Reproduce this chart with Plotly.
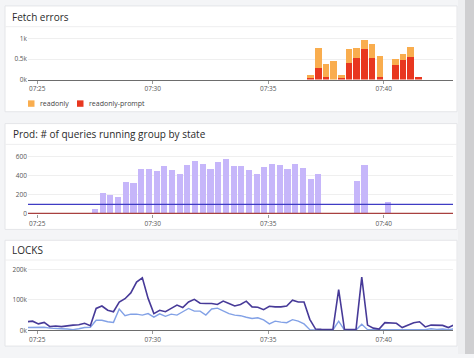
import plotly.graph_objects as go
import pandas as pd

W, H = 474, 358
DAY = "2024-01-01 "

# ---------------- Panel 1: Fetch errors (20 s buckets) ----------------
fetch_times = ["07:36:50", "07:37:10", "07:37:30", "07:37:50", "07:38:10",
               "07:38:30", "07:38:50", "07:39:10", "07:39:30", "07:39:50",
               "07:40:10", "07:40:30", "07:40:50", "07:41:10", "07:41:30"]
readonly_prompt = [50, 290, 56, 0, 50, 411, 532, 734, 516, 56, 0, 363, 484, 548, 65]
readonly = [70, 484, 331, 444, 70, 339, 250, 242, 355, 524, 0, 145, 129, 258, 0]

# ---------------- Panel 2: queries running by state ----------------
query_times = ["07:27:30", "07:27:50", "07:28:10", "07:28:30", "07:28:50",
               "07:29:10", "07:29:30", "07:29:50", "07:30:10", "07:30:30",
               "07:30:50", "07:31:10", "07:31:30", "07:31:50", "07:32:10",
               "07:32:30", "07:32:50", "07:33:10", "07:33:30", "07:33:50",
               "07:34:10", "07:34:30", "07:34:50", "07:35:10", "07:35:30",
               "07:35:50", "07:36:10", "07:36:30", "07:36:50", "07:37:10",
               "07:38:50", "07:39:10", "07:40:10"]
query_counts = [55, 214, 200, 172, 331, 324, 472, 466, 448, 500,
                459, 414, 510, 555, 524, 472, 545, 572, 500, 500,
                455, 417, 486, 517, 507, 472, 524, 479, 366, 417,
                341, 507, 128]
state_line_times = ["07:24:00", "07:44:00"]
state_blue = [100, 100]
state_red = [2, 2]

# ---------------- Panel 3: LOCKS (15 s samples) ----------------
locks_start = "07:24:33"
locks_total = [28, 30, 21, 26, 12, 14, 12, 15, 17, 18,
               23, 15, 72, 80, 66, 61, 93, 104, 123, 159,
               173, 105, 55, 66, 61, 72, 83, 75, 93, 102,
               89, 88, 88, 85, 96, 88, 80, 85, 96, 77,
               76, 68, 79, 77, 77, 80, 99, 93, 93, 36,
               4, 3, 2, 2, 134, 3, 2, 2, 175, 17,
               7, 4, 25, 23, 23, 9, 17, 25, 28, 11,
               17, 17, 16, 9, 18]
locks_other = [9, 9, 10, 10, 7, 7, 5, 4, 2, 5,
               9, 10, 33, 33, 28, 26, 70, 48, 53, 53,
               50, 55, 43, 54, 46, 53, 50, 61, 72, 63,
               63, 50, 70, 73, 64, 55, 50, 48, 43, 39,
               41, 34, 21, 30, 27, 25, 35, 30, 21, 2,
               1, 1, 1, 1, 30, 1, 1, 1, 20, 2,
               2, 2, 2, 2, 2, 2, 3, 2, 4, 2,
               5, 3, 4, 2, 5]

# ---------------- styling ----------------
FONT = "Open Sans"
C_ORANGE = "#f9ad4e"
C_RED = "#e8371f"
C_LAV = "#c6b6fa"
C_BLUE = "#3f3cc4"
C_DRED = "#a8403f"
C_DARK = "#473a98"
C_LIGHT = "#82a1e6"


def t(s):
    return pd.Timestamp(DAY + s)


def px_x(p):
    return p / W


def px_y(p):
    return 1 - p / H


lock_times = pd.date_range(t(locks_start), periods=len(locks_total), freq="15s")

fig = go.Figure()

fig.add_trace(go.Bar(x=[t(s) for s in fetch_times], y=readonly_prompt,
                     marker=dict(color=C_RED, line_width=0), width=17000,
                     name="readonly-prompt", xaxis="x", yaxis="y", showlegend=False))
fig.add_trace(go.Bar(x=[t(s) for s in fetch_times], y=readonly,
                     marker=dict(color=C_ORANGE, line_width=0), width=17000,
                     name="readonly", xaxis="x", yaxis="y", showlegend=False))

fig.add_trace(go.Bar(x=[t(s) for s in query_times], y=query_counts,
                     marker=dict(color=C_LAV, line_width=0), width=15800,
                     xaxis="x2", yaxis="y2", showlegend=False))
fig.add_trace(go.Scatter(x=[t(s) for s in state_line_times], y=state_blue, mode="lines",
                         line=dict(color=C_BLUE, width=1.3), xaxis="x2", yaxis="y2",
                         showlegend=False))
fig.add_trace(go.Scatter(x=[t(s) for s in state_line_times], y=state_red, mode="lines",
                         line=dict(color=C_DRED, width=1.7), xaxis="x2", yaxis="y2",
                         showlegend=False))

fig.add_trace(go.Scatter(x=lock_times, y=[v * 1000 for v in locks_other], mode="lines",
                         line=dict(color=C_LIGHT, width=1.4), xaxis="x3", yaxis="y3",
                         showlegend=False))
fig.add_trace(go.Scatter(x=lock_times, y=[v * 1000 for v in locks_total], mode="lines",
                         line=dict(color=C_DARK, width=1.6), xaxis="x3", yaxis="y3",
                         showlegend=False))

x_range = [t("07:24:36"), t("07:43:00")]
x_dom = [px_x(28), px_x(453)]


def xaxis(anchor, showline=True):
    return dict(domain=x_dom, anchor=anchor, type="date", range=x_range,
                tickformat="%H:%M", dtick=300000, tick0=t("07:25:00"),
                showgrid=False, zeroline=False, showline=showline,
                linecolor="#6d6d6d", linewidth=1, layer="below traces",
                ticks="outside", ticklen=3, tickcolor="#9a9a9a", tickwidth=1,
                tickfont=dict(family=FONT, size=6.5, color="#555"))


def yaxis(anchor, dom, rng, vals, texts):
    return dict(domain=dom, anchor=anchor, range=rng, tickvals=vals, ticktext=texts,
                showgrid=True, gridcolor="#efefef", gridwidth=1, zeroline=False,
                showline=False, ticks="",
                tickfont=dict(family=FONT, size=6.5, color="#555"))


# panels (page background boxes)
shapes = []
panels = [(5, 457, 6, 113, 27), (5, 457, 125, 232, 146), (5, 457, 243, 350, 263)]
for x0, x1, y0, y1, ysep in panels:
    shapes.append(dict(type="rect", xref="paper", yref="paper", layer="below",
                       x0=px_x(x0), x1=px_x(x1), y0=px_y(y1), y1=px_y(y0),
                       fillcolor="white", line=dict(color="#e4e5e8", width=1)))
    shapes.append(dict(type="line", xref="paper", yref="paper", layer="below",
                       x0=px_x(x0), x1=px_x(x1), y0=px_y(ysep), y1=px_y(ysep),
                       line=dict(color="#eeeeef", width=1)))
# right scrollbar strip
shapes.append(dict(type="rect", xref="paper", yref="paper", layer="below",
                   x0=px_x(458), x1=px_x(465), y0=0, y1=1,
                   fillcolor="#eeeff1", line_width=0))
shapes.append(dict(type="rect", xref="paper", yref="paper", layer="below",
                   x0=px_x(465), x1=1, y0=0, y1=1,
                   fillcolor="#cfcfd1", line_width=0))
# legend squares
legend_items = [("readonly", C_ORANGE, 28), ("readonly-prompt", C_RED, 77)]
for _, col, lx in legend_items:
    shapes.append(dict(type="rect", xref="paper", yref="paper",
                       x0=px_x(lx), x1=px_x(lx + 6.5), y0=px_y(108), y1=px_y(101.5),
                       fillcolor=col, line_width=0))

annotations = []
titles = [("Fetch errors", 9.5, 17), ("Prod: # of queries running group by state", 11, 136),
          ("LOCKS", 9.5, 253)]
for txt, ax, ay in titles:
    annotations.append(dict(text=txt, xref="paper", yref="paper", x=px_x(ax), y=px_y(ay),
                            xanchor="left", yanchor="middle", showarrow=False,
                            font=dict(family=FONT, size=10, color="#2a2a2a")))
for name, _, lx in legend_items:
    annotations.append(dict(text=name, xref="paper", yref="paper", x=px_x(lx + 10),
                            y=px_y(104.8), xanchor="left", yanchor="middle",
                            showarrow=False,
                            font=dict(family=FONT, size=7, color="#444")))

fig.update_layout(
    width=W, height=H, margin=dict(l=0, r=0, t=0, b=0),
    paper_bgcolor="#f4f5f7", plot_bgcolor="rgba(0,0,0,0)",
    barmode="stack", showlegend=False,
    xaxis=xaxis("y"), xaxis2=xaxis("y2", showline=False), xaxis3=xaxis("y3"),
    yaxis=yaxis("x", [px_y(80.5), px_y(34)], [0, 1120], [0, 500, 1000], ["0k", "0.5k", "1k"]),
    yaxis2=yaxis("x2", [px_y(216.3), px_y(152)], [0, 665], [0, 200, 400, 600],
                 ["0", "200", "400", "600"]),
    yaxis3=yaxis("x3", [px_y(334), px_y(268)], [0, 215000], [0, 100000, 200000],
                 ["0k", "100k", "200k"]),
    shapes=shapes, annotations=annotations,
)

fig.write_html("out.html", config={"displayModeBar": False},
               post_script="document.body.style.margin='0';document.body.style.overflow='hidden';")
